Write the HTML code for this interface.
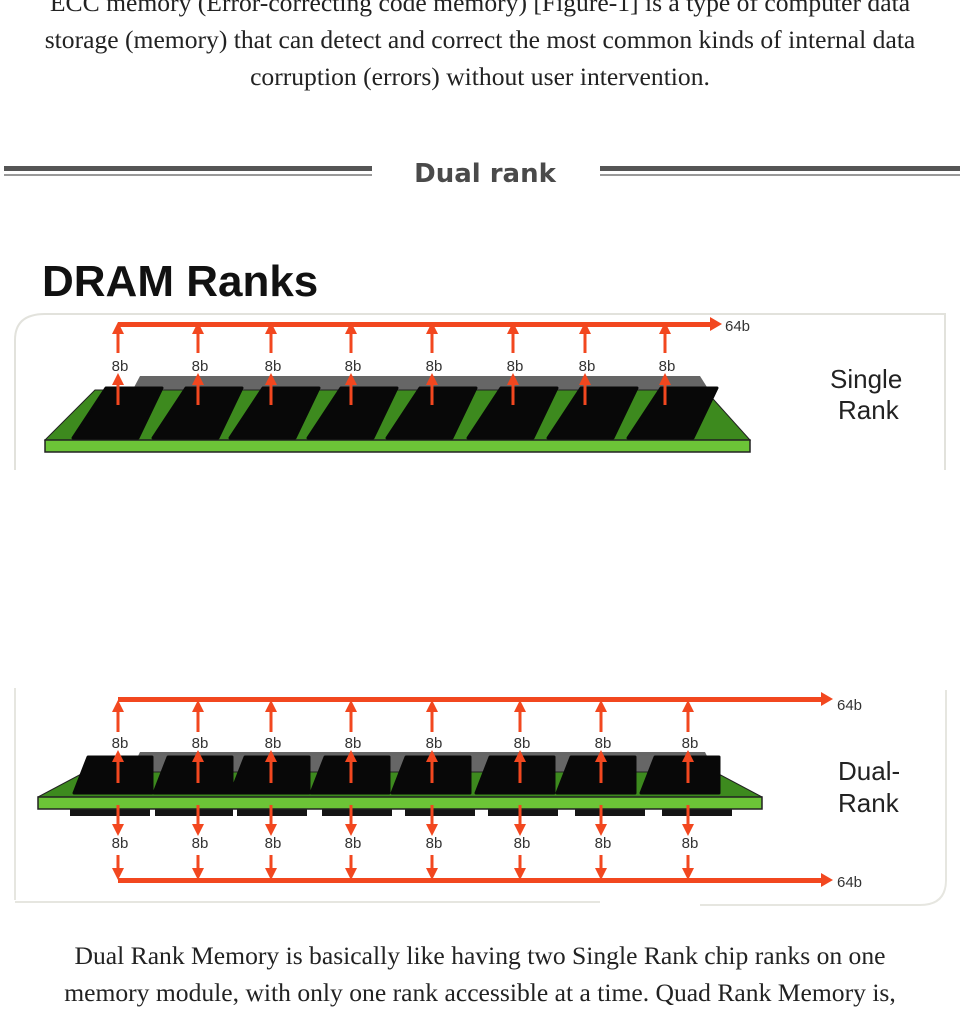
<!DOCTYPE html>
<html><head><meta charset="utf-8"><style>
html,body{margin:0;padding:0;width:960px;height:1000px;overflow:hidden;background:#fff}
.p{position:absolute;left:0;width:960px;text-align:center;font-family:"Liberation Serif",serif;font-size:25.6px;color:#222;line-height:37px}
</style></head><body>
<div class="p" style="top:-16px">ECC memory (Error-correcting code memory) [Figure-1] is a type of computer data<br>storage (memory) that can detect and correct the most common kinds of internal data<br>corruption (errors) without user intervention.</div>
<div class="p" style="top:937px">Dual Rank Memory is basically like having two Single Rank chip ranks on one<br>memory module, with only one rank accessible at a time. Quad Rank Memory is,</div>
<svg width="960" height="1000" style="position:absolute;left:0;top:0">
<defs>
<g id="up" fill="#f2471f" stroke="none">
<polygon points="0,322 -6,334 6,334"/><rect x="-1.5" y="333" width="3" height="20"/>
<polygon points="0,373 -6,385 6,385"/><rect x="-1.5" y="384" width="3" height="21"/>
<text x="2" y="371" font-family="Liberation Sans,sans-serif" font-size="15" fill="#333" text-anchor="middle">8b</text>
</g>
<g id="du" fill="#f2471f">
<polygon points="0,700 -6,712 6,712"/><rect x="-1.5" y="711" width="3" height="21"/>
<polygon points="0,750 -6,762 6,762"/><rect x="-1.5" y="761" width="3" height="22"/>
<text x="2" y="748" font-family="Liberation Sans,sans-serif" font-size="15" fill="#333" text-anchor="middle">8b</text>
<rect x="-1.5" y="805" width="3" height="22"/><polygon points="0,836 -6,824 6,824"/>
<rect x="-1.5" y="855" width="3" height="20"/><polygon points="0,880 -6,868 6,868"/>
<text x="2" y="848" font-family="Liberation Sans,sans-serif" font-size="15" fill="#333" text-anchor="middle">8b</text>
</g>
<polygon id="chip" points="-12,388 44,388 20,438 -45,438" fill="#080808" stroke="#080808" stroke-width="3" stroke-linejoin="round"/>
<polygon id="chip2" points="-30,757 34,757 34,793 -44,793" fill="#080808" stroke="#080808" stroke-width="3" stroke-linejoin="round"/>
</defs>
<rect x="4" y="166" width="368" height="5" fill="#555"/><rect x="4" y="174" width="368" height="2" fill="#999"/>
<rect x="600" y="166" width="360" height="5" fill="#555"/><rect x="600" y="174" width="360" height="2" fill="#999"/>
<text x="485" y="182" text-anchor="middle" font-family="DejaVu Sans,sans-serif" font-weight="bold" font-size="26" fill="#4a4a4a">Dual rank</text>
<text x="42" y="296" font-family="Liberation Sans,sans-serif" font-weight="bold" font-size="44" fill="#111">DRAM Ranks</text>
<path d="M15,470 V340 Q15,314 45,314 H945 V470" fill="none" stroke="#e2e2dc" stroke-width="2"/>
<path d="M15,688 V900 M15,902 H600 M700,905 H920 Q946,905 946,880 V690" fill="none" stroke="#e6e6e0" stroke-width="2"/>
<!-- single module -->
<polygon points="140,376 700,376 712,395 130,395" fill="#666"/>
<polygon points="95,390 705,390 750,440 45,440" fill="#3d8a1e" stroke="#222" stroke-width="1"/>
<rect x="45" y="440" width="705" height="12" fill="#6cc437" stroke="#222" stroke-width="1.5"/>
<use href="#chip" x="118"/><use href="#chip" x="198"/><use href="#chip" x="275"/><use href="#chip" x="353"/><use href="#chip" x="432"/><use href="#chip" x="513"/><use href="#chip" x="593"/><use href="#chip" x="673"/>
<rect x="118" y="322" width="598" height="5" fill="#f2471f"/><polygon points="722,324 710,317 710,331" fill="#f2471f"/>
<text x="725" y="331" font-family="Liberation Sans,sans-serif" font-size="15" fill="#333">64b</text>
<use href="#up" x="118"/><use href="#up" x="198"/><use href="#up" x="271"/><use href="#up" x="351"/><use href="#up" x="432"/><use href="#up" x="513"/><use href="#up" x="585"/><use href="#up" x="665"/>
<text x="830" y="388" font-family="Liberation Sans,sans-serif" font-size="26" fill="#222">Single</text>
<text x="838" y="419" font-family="Liberation Sans,sans-serif" font-size="26" fill="#222">Rank</text>
<!-- dual module -->
<polygon points="140,752 705,752 715,772 130,772" fill="#666"/>
<g fill="#151515"><rect x="70" y="804" width="80" height="12"/><rect x="155" y="804" width="78" height="12"/><rect x="237" y="804" width="70" height="12"/><rect x="322" y="804" width="70" height="12"/><rect x="405" y="804" width="70" height="12"/><rect x="488" y="804" width="70" height="12"/><rect x="575" y="804" width="70" height="12"/><rect x="662" y="804" width="70" height="12"/></g>
<polygon points="85,772 715,772 762,797 38,797" fill="#3d8a1e" stroke="#222"/>
<rect x="38" y="797" width="724" height="12" fill="#6cc437" stroke="#222" stroke-width="1.5"/>
<use href="#chip2" x="118"/><use href="#chip2" x="198"/><use href="#chip2" x="275"/><use href="#chip2" x="355"/><use href="#chip2" x="436"/><use href="#chip2" x="520"/><use href="#chip2" x="601"/><use href="#chip2" x="685"/>
<rect x="118" y="697" width="708" height="5" fill="#f2471f"/><polygon points="833,699 821,692 821,706" fill="#f2471f"/>
<rect x="118" y="878" width="708" height="5" fill="#f2471f"/><polygon points="833,880 821,873 821,887" fill="#f2471f"/>
<text x="837" y="710" font-family="Liberation Sans,sans-serif" font-size="15" fill="#333">64b</text>
<text x="837" y="887" font-family="Liberation Sans,sans-serif" font-size="15" fill="#333">64b</text>
<use href="#du" x="118"/><use href="#du" x="198"/><use href="#du" x="271"/><use href="#du" x="351"/><use href="#du" x="432"/><use href="#du" x="520"/><use href="#du" x="601"/><use href="#du" x="688"/>
<text x="838" y="780" font-family="Liberation Sans,sans-serif" font-size="26" fill="#222">Dual-</text>
<text x="838" y="812" font-family="Liberation Sans,sans-serif" font-size="26" fill="#222">Rank</text>
</svg>
</body></html>
